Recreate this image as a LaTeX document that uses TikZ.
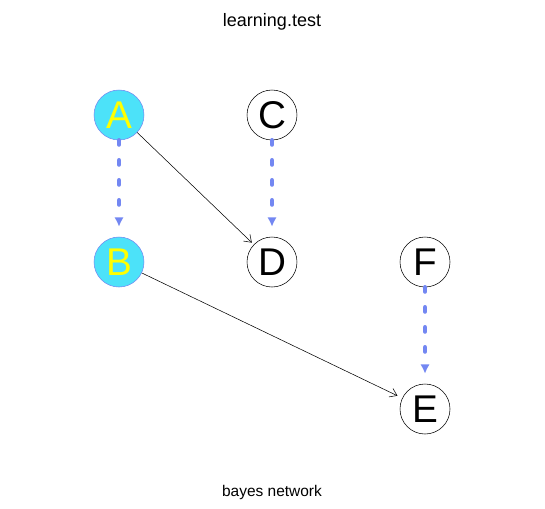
\documentclass[tikz,border=0pt]{standalone}
\usepackage{fontspec}
\setmainfont{Liberation Sans}
\usepackage{xcolor}
\usepackage{tikz}
\usetikzlibrary{arrows.meta, positioning}
\definecolor{hilite}{HTML}{7387F2}
\definecolor{nodefill}{HTML}{4CE2F9}
\definecolor{nodetext}{HTML}{FFFF00}

\begin{document}
\begin{tikzpicture}[
    x=0.75pt, y=-0.75pt,
    node distance={110.25pt and 114.75pt}, on grid,
    var/.style={circle, draw=black, fill=white, minimum size=37.5pt, inner sep=0pt, font=\fontsize{29}{29}\selectfont},
    marked/.style={var, draw=hilite, fill=nodefill, text=nodetext},
    arc/.style={-{Straight Barb[length=5pt, width=7pt]}, thin, shorten >=2pt},
    hiarc/.style={-{Latex[length=7pt, width=7pt]}, hilite, line width=3.4pt, line cap=round, dash pattern=on 3.2pt off 11.8pt, shorten >=7.5pt},
    caption/.style={font=\fontsize{11.6}{11.6}\selectfont},
    heading/.style={font=\fontsize{13.5}{13.5}\selectfont}
  ]
    \useasboundingbox (0,0) rectangle (545,508);

    \node[marked] (A) at (119,115) {A};
    \node[var, right=of A] (C) {C};
    \node[marked, below=of A] (B) {B};
    \node[var, below=of C] (D) {D};
    \node[var, right=of D] (F) {F};
    \node[var, below=of F] (E) {E};

    \draw[arc] (A) -- (D);
    \draw[arc, shorten >=4pt] (B) -- (E);
    \draw[hiarc] (A) -- (B);
    \draw[hiarc] (C) -- (D);
    \draw[hiarc] (F) -- (E);

    \node[heading] (title) at (272,22) {learning.test};
    \node[caption] (sub) at (272,492) {bayes network};
  \end{tikzpicture}
\end{document}
